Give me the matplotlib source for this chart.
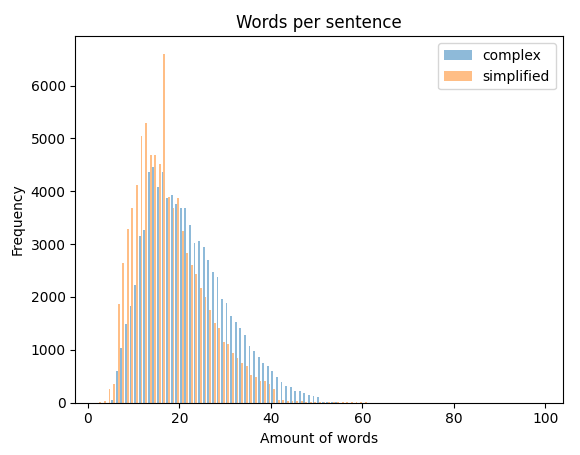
import numpy as np
import matplotlib
matplotlib.use("Agg")
import matplotlib.pyplot as plt

bin_starts = list(range(2, 99))
complex_counts = {
    5: 56, 6: 600, 7: 1037, 8: 1481, 9: 1837, 10: 2225, 11: 3150, 12: 3262,
    13: 4369, 14: 4462, 15: 4087, 16: 4369, 17: 3881, 18: 3937, 19: 3750,
    20: 3675, 21: 3675, 22: 3356, 23: 3019, 24: 3056, 25: 2944, 26: 2700,
    27: 2475, 28: 2381, 29: 1969, 30: 1894, 31: 1631, 32: 1519, 33: 1406,
    34: 1275, 35: 1069, 36: 975, 37: 862, 38: 750, 39: 694, 40: 600, 41: 487,
    42: 394, 43: 319, 44: 300, 45: 225, 46: 225, 47: 187, 48: 150, 49: 131,
    50: 112, 51: 15, 52: 12, 53: 8, 54: 5, 55: 3, 98: 1,
}
simplified_counts = {
    2: 10, 3: 30, 4: 262, 5: 362, 6: 1875, 7: 2650, 8: 3281, 9: 3681,
    10: 4125, 11: 5044, 12: 5287, 13: 4687, 14: 4687, 15: 4519, 16: 6600,
    17: 3900, 18: 3675, 19: 3881, 20: 3244, 21: 2837, 22: 2612, 23: 2437,
    24: 2175, 25: 2000, 26: 1744, 27: 1500, 28: 1406, 29: 1144, 30: 1106,
    31: 937, 32: 844, 33: 750, 34: 694, 35: 525, 36: 487, 37: 412, 38: 412,
    39: 356, 40: 262, 41: 56, 42: 56, 43: 40, 44: 40, 45: 40, 46: 40,
    47: 20, 48: 20, 49: 20, 50: 20, 51: 10, 52: 10, 53: 10, 54: 10, 55: 8,
    56: 8, 57: 6, 58: 6, 59: 5, 60: 4, 61: 3, 62: 2,
}

edges = np.arange(2, 100)
cx = np.array(list(complex_counts.keys())) + 0.5
cw = np.array(list(complex_counts.values()))
sx = np.array(list(simplified_counts.keys())) + 0.5
sw = np.array(list(simplified_counts.values()))

fig, ax = plt.subplots(figsize=(5.8, 4.55), dpi=100)
ax.hist([cx, sx], bins=edges, weights=[cw, sw], alpha=0.5,
        label=["complex", "simplified"])
ax.set_title("Words per sentence")
ax.set_xlabel("Amount of words")
ax.set_ylabel("Frequency")
ax.legend(loc="upper right")
fig.subplots_adjust(left=0.13, right=0.97, top=0.92, bottom=0.115)
fig.savefig("out.png")
